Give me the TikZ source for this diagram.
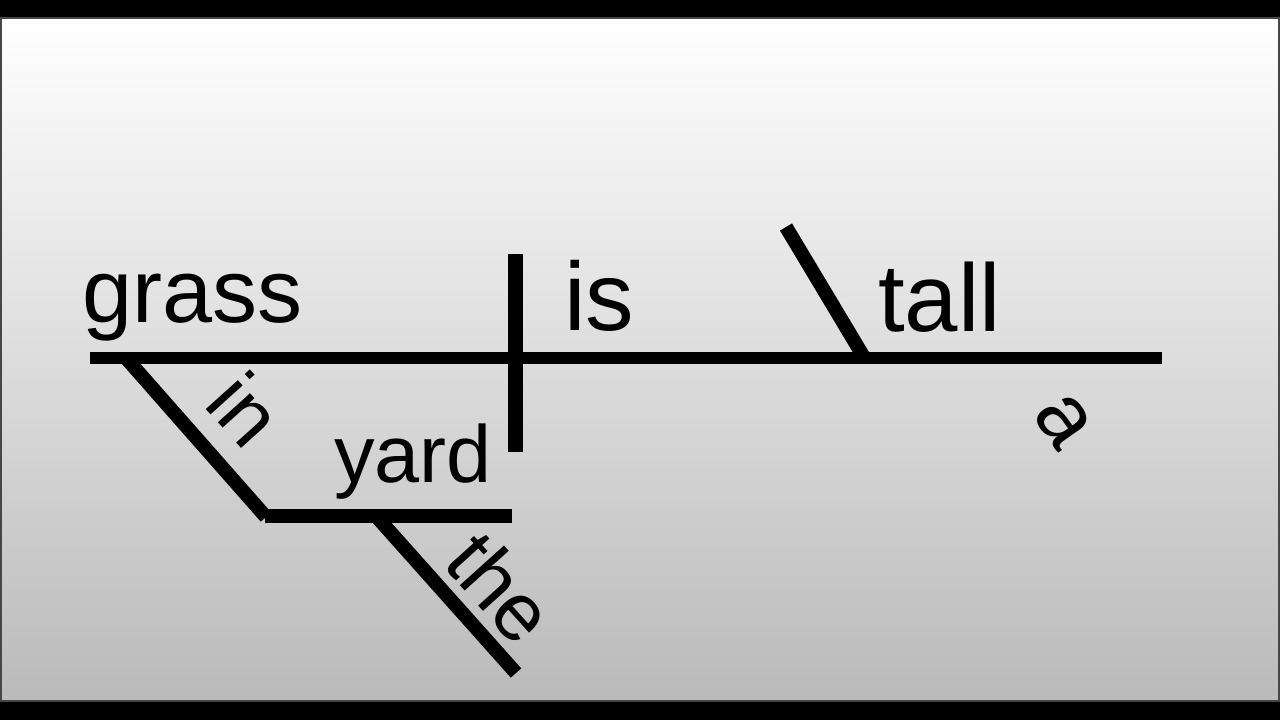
\documentclass[tikz,border=0pt]{standalone}
\usepackage{fontspec}
\setmainfont{Liberation Sans}
\definecolor{bgtop}{RGB}{255,255,255}
\definecolor{bgbot}{RGB}{186,186,186}
\definecolor{edge}{RGB}{70,70,70}
\tikzset{
  rule/.style={line width=13pt, line cap=butt, black},
  word/.style={inner sep=0pt, outer sep=0pt, text=black},
}
\newcommand{\fs}[1]{\fontsize{#1}{#1}\selectfont}
\begin{document}
\begin{tikzpicture}[x=1pt,y=-1pt]
\useasboundingbox (0,0) rectangle (1280,720);
% frame
\fill[black] (0,0) rectangle (1280,720);
\shade[top color=bgtop, bottom color=bgbot] (1,18) rectangle (1279,701);
\draw[edge, line width=1.2pt] (1,18) rectangle (1279,701);

% coordinates
\coordinate (mainL) at (90,358);
\coordinate (mainR) at (1162,358);
\coordinate (divT) at (515,254);
\coordinate (divB) at (515,452);
\coordinate (slT) at (786,227);
\coordinate (slB) at (865,359);
\coordinate (inT) at (126,358);
\coordinate (inB) at (266,517);
\coordinate (yardL) at (265,516);
\coordinate (yardR) at (512,516);
\coordinate (theT) at (376,516);
\coordinate (theB) at (516,673);

% lines
\draw[rule, line width=12pt] (mainL) -- (mainR);
\draw[rule, line width=15pt] (divT) -- (divB);
\draw[rule, line width=14pt] (slT) -- (slB);
\draw[rule, line width=14pt] (inT) -- (inB);
\draw[rule, line width=14pt] (yardL) -- (yardR);
\draw[rule, line width=14pt] (theT) -- (theB);

% words
\node[word, anchor=base west] (grass) at (82,322) {\fs{90}grass};
\node[word, anchor=base west] (is) at (564,330) {\fs{97}is};
\node[word, anchor=base west] (tall) at (878,331) {\fs{96}tall};
\node[word, anchor=base west] (yard) at (334,482) {\fs{81}yard};
\node[word, rotate=-48] (in) at (246,409) {\fs{82}in};
\node[word, rotate=-48] (the) at (501,587) {\fs{82}the};
\node[word, rotate=-55] (a) at (1063,421) {\fs{85}a};
\end{tikzpicture}
\end{document}
